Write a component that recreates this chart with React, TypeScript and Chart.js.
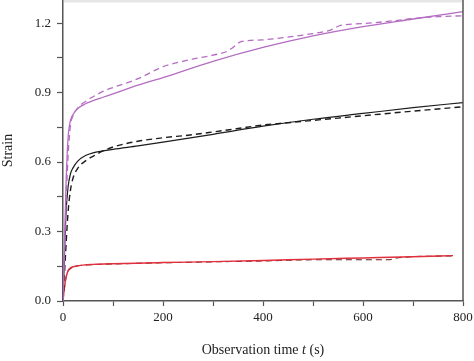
import React, { useEffect, useRef } from "react";
import { Chart, registerables } from "chart.js";

Chart.register(...registerables);

// ---- Data ----
const purpleFitT = [0, 3, 6, 10, 15, 20, 30, 45, 60, 80, 100, 150, 200, 300, 400, 500, 600, 700, 800];
const purpleFitV = [0, 0.25, 0.5, 0.7, 0.78, 0.805, 0.832, 0.852, 0.865, 0.88, 0.895, 0.932, 0.965, 1.035, 1.095, 1.145, 1.185, 1.218, 1.25];

const purpleExpT = [0, 5, 10, 15, 20, 30, 45, 60, 80, 100, 150, 200, 250, 300, 330, 340, 355, 400, 450, 500, 535, 555, 600, 660, 700, 750, 800];
const purpleExpV = [0, 0.35, 0.62, 0.76, 0.8, 0.835, 0.862, 0.882, 0.905, 0.922, 0.96, 1.012, 1.04, 1.062, 1.08, 1.095, 1.119, 1.128, 1.14, 1.155, 1.17, 1.19, 1.198, 1.21, 1.22, 1.228, 1.232];

const blackFitT = [0, 3, 6, 10, 15, 20, 30, 45, 60, 80, 100, 150, 200, 300, 400, 500, 600, 700, 800];
const blackFitV = [0, 0.2, 0.38, 0.49, 0.55, 0.575, 0.605, 0.628, 0.64, 0.648, 0.655, 0.67, 0.686, 0.72, 0.755, 0.785, 0.81, 0.835, 0.857];

const blackExpT = [0, 5, 10, 15, 20, 30, 45, 60, 80, 100, 150, 200, 250, 300, 350, 400, 450, 500, 550, 600, 700, 800];
const blackExpV = [0, 0.2, 0.38, 0.48, 0.53, 0.575, 0.605, 0.625, 0.648, 0.665, 0.69, 0.705, 0.716, 0.73, 0.745, 0.76, 0.77, 0.78, 0.79, 0.8, 0.82, 0.839];

const redFitT = [0, 3, 6, 10, 15, 25, 40, 60, 100, 200, 300, 400, 500, 600, 700, 780];
const redFitV = [0, 0.06, 0.1, 0.13, 0.143, 0.15, 0.155, 0.158, 0.161, 0.166, 0.17, 0.175, 0.181, 0.186, 0.191, 0.196];

const redExpT = [0, 5, 10, 15, 25, 40, 60, 100, 200, 300, 400, 500, 600, 650, 670, 780];
const redExpV = [0, 0.09, 0.128, 0.14, 0.15, 0.155, 0.157, 0.16, 0.165, 0.169, 0.173, 0.178, 0.178, 0.178, 0.187, 0.195];

const xTicks = [0, 100, 200, 300, 400, 500, 600, 700, 800];
const xLabelTicks = [0, 200, 400, 600, 800];
const yTicks = [0, 0.15, 0.3, 0.45, 0.6, 0.75, 0.9, 1.05, 1.2];
const yLabelTicks = [0, 0.3, 0.6, 0.9, 1.2];

const xTitleParts = [
  { text: "Observation time ", italic: false },
  { text: "t", italic: true },
  { text: " (s)", italic: false },
];
const yTitle = "Strain";

const PURPLE = "#b46cc2";
const BLACK = "#1c1c1c";
const RED = "#e0303e";
const RED_DASH = "#6a1a1a";
const FONT = "'Liberation Serif', 'Times New Roman', serif";

const zip = (t: number[], v: number[]) => t.map((x, i) => ({ x, y: v[i] }));

const near = (a: number, list: number[]) => list.some((b) => Math.abs(a - b) < 1e-6);

export default function App() {
  const ref = useRef<HTMLCanvasElement | null>(null);

  useEffect(() => {
    document.body.style.margin = "0";
    const canvas = ref.current;
    if (!canvas) return;

    const framePlugin = {
      id: "frame",
      afterDraw(chart: any) {
        const { ctx, chartArea } = chart;
        ctx.save();
        // right border
        ctx.strokeStyle = "#555";
        ctx.lineWidth = 1.5;
        ctx.beginPath();
        ctx.moveTo(chartArea.right, chartArea.top);
        ctx.lineTo(chartArea.right, chartArea.bottom);
        ctx.stroke();
        // top light border
        ctx.strokeStyle = "#e6e6e6";
        ctx.lineWidth = 3;
        ctx.beginPath();
        ctx.moveTo(chartArea.left + 1, chartArea.top + 1);
        ctx.lineTo(chartArea.right - 1, chartArea.top + 1);
        ctx.stroke();

        // x title with italic t
        const size = 14;
        const fonts = xTitleParts.map((p) => `${p.italic ? "italic " : ""}${size}px ${FONT}`);
        let total = 0;
        const widths = xTitleParts.map((p, i) => {
          ctx.font = fonts[i];
          const w = ctx.measureText(p.text).width;
          total += w;
          return w;
        });
        let x = (chartArea.left + chartArea.right) / 2 - total / 2;
        const y = 350;
        ctx.fillStyle = "#222";
        ctx.textBaseline = "middle";
        ctx.textAlign = "left";
        xTitleParts.forEach((p, i) => {
          ctx.font = fonts[i];
          ctx.fillText(p.text, x, y);
          x += widths[i];
        });
        ctx.restore();
      },
    };

    const mk = (label: string, t: number[], v: number[], color: string, dashed: boolean, width: number) => ({
      label,
      data: zip(t, v),
      borderColor: color,
      backgroundColor: color,
      borderWidth: width,
      borderDash: dashed ? [6, 4] : [],
      pointRadius: 0,
      fill: false,
      tension: 0,
      cubicInterpolationMode: "monotone" as const,
    });

    const chart = new Chart(canvas, {
      type: "line",
      data: {
        datasets: [
          mk("Purple experiment", purpleExpT, purpleExpV, PURPLE, true, 1.3),
          mk("Purple fit", purpleFitT, purpleFitV, PURPLE, false, 1.3),
          mk("Black experiment", blackExpT, blackExpV, BLACK, true, 1.4),
          mk("Black fit", blackFitT, blackFitV, BLACK, false, 1.2),
          mk("Red fit", redFitT, redFitV, RED, false, 1.4),
          mk("Red experiment", redExpT, redExpV, RED_DASH, true, 1.1),
        ],
      },
      plugins: [framePlugin],
      options: {
        animation: false,
        responsive: false,
        maintainAspectRatio: false,
        layout: { padding: { left: 0, right: 11, top: 0, bottom: 0 } },
        plugins: {
          legend: { display: false },
          tooltip: { enabled: false },
        },
        scales: {
          x: {
            type: "linear",
            min: 0,
            max: 800,
            afterBuildTicks: (axis: any) => {
              axis.ticks = xTicks.map((value) => ({ value }));
            },
            afterFit: (axis: any) => {
              axis.height = 60;
              axis.paddingLeft = 0;
              axis.paddingRight = 0;
            },
            ticks: {
              autoSkip: false,
              maxRotation: 0,
              padding: 4,
              color: "#222",
              font: { family: FONT, size: 13 },
              callback: (v: any) => (near(Number(v), xLabelTicks) ? String(v) : ""),
            },
            grid: {
              drawOnChartArea: false,
              drawTicks: true,
              tickLength: 5,
              tickColor: "#555",
              tickWidth: 1.2,
            },
            border: { display: true, color: "#555", width: 1.5 },
            title: { display: false },
          },
          y: {
            type: "linear",
            min: 0,
            max: 1.3,
            afterBuildTicks: (axis: any) => {
              axis.ticks = yTicks.map((value) => ({ value }));
            },
            afterFit: (axis: any) => {
              axis.width = 63;
              axis.paddingTop = 0;
              axis.paddingBottom = 0;
            },
            ticks: {
              autoSkip: false,
              padding: 6,
              color: "#222",
              font: { family: FONT, size: 13 },
              callback: (v: any) => (near(Number(v), yLabelTicks) ? Number(v).toFixed(1) : ""),
            },
            grid: {
              drawOnChartArea: false,
              drawTicks: true,
              tickLength: 6,
              tickColor: "#555",
              tickWidth: 1.2,
            },
            border: { display: true, color: "#555", width: 1.5 },
            title: {
              display: true,
              text: yTitle,
              color: "#222",
              font: { family: FONT, size: 14 },
              padding: { top: 0, bottom: 3 },
            },
          },
        },
      },
    });

    return () => chart.destroy();
  }, []);

  return (
    <div style={{ width: 474, height: 361, position: "relative", background: "#fff" }}>
      <canvas ref={ref} width={474} height={361} style={{ display: "block", width: 474, height: 361 }} />
    </div>
  );
}
